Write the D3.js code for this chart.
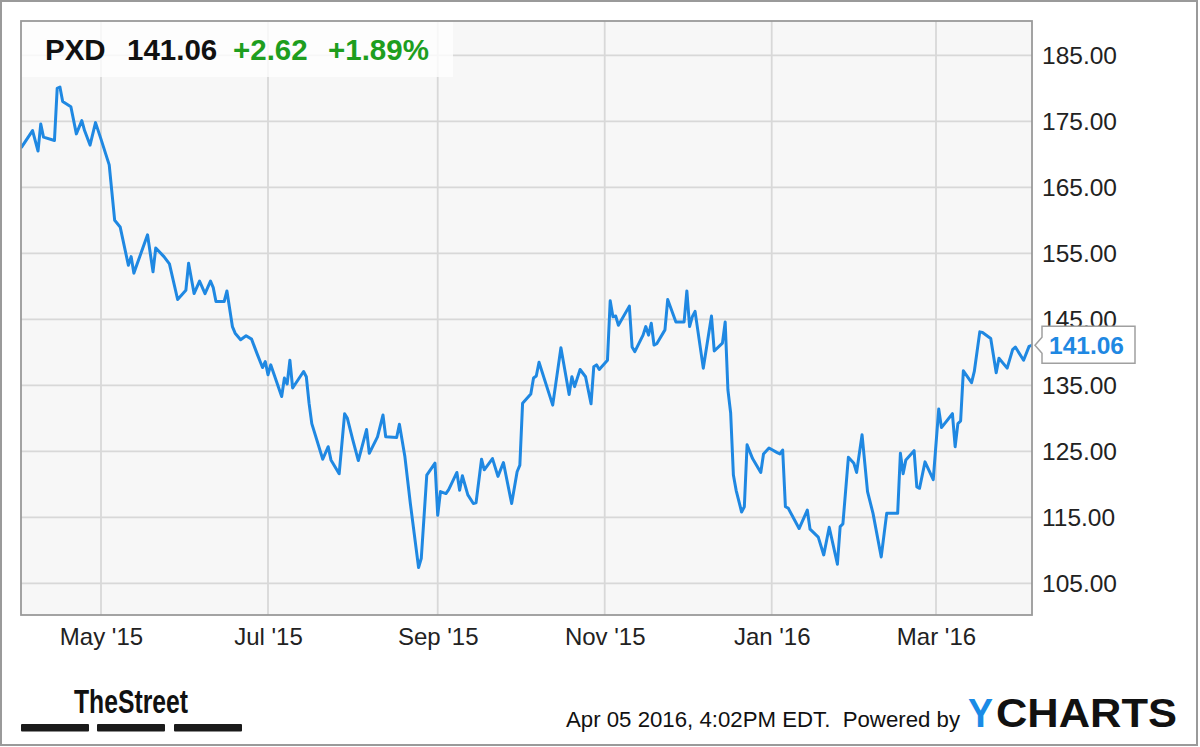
<!DOCTYPE html>
<html>
<head>
<meta charset="utf-8">
<script src="https://cdn.jsdelivr.net/npm/d3@7"></script>
<style>
  html, body { margin: 0; padding: 0; background: #fff; }
  svg { display: block; font-family: "Liberation Sans", Arial, Helvetica, sans-serif; }
</style>
</head>
<body>
<svg id="chart" width="1200" height="747"></svg>
<script>
// ---- data ----
const dates = [
"2015-04-02","2015-04-06","2015-04-08","2015-04-09","2015-04-10","2015-04-14","2015-04-15","2015-04-16","2015-04-17","2015-04-20",
"2015-04-22","2015-04-24","2015-04-25","2015-04-27","2015-04-29","2015-05-01","2015-05-04","2015-05-06","2015-05-08","2015-05-11",
"2015-05-12","2015-05-13","2015-05-18","2015-05-20","2015-05-21","2015-05-24","2015-05-26","2015-05-29","2015-06-01","2015-06-02",
"2015-06-04","2015-06-06","2015-06-08","2015-06-10","2015-06-11","2015-06-12","2015-06-15","2015-06-16","2015-06-18","2015-06-19",
"2015-06-21","2015-06-23","2015-06-25","2015-06-27","2015-06-29","2015-06-30","2015-07-01","2015-07-02","2015-07-06","2015-07-07",
"2015-07-08","2015-07-09","2015-07-10","2015-07-14","2015-07-15","2015-07-16","2015-07-17","2015-07-21","2015-07-23","2015-07-24",
"2015-07-27","2015-07-29","2015-07-30","2015-08-01","2015-08-03","2015-08-06","2015-08-07","2015-08-10","2015-08-12","2015-08-13",
"2015-08-17","2015-08-18","2015-08-20","2015-08-22","2015-08-25","2015-08-26","2015-08-28","2015-08-31","2015-09-01","2015-09-02",
"2015-09-04","2015-09-05","2015-09-08","2015-09-09","2015-09-10","2015-09-12","2015-09-14","2015-09-15","2015-09-17","2015-09-18",
"2015-09-21","2015-09-23","2015-09-25","2015-09-28","2015-09-30","2015-10-01","2015-10-02","2015-10-05","2015-10-06","2015-10-07",
"2015-10-08","2015-10-13","2015-10-16","2015-10-19","2015-10-20","2015-10-21","2015-10-23","2015-10-25","2015-10-27","2015-10-28",
"2015-10-29","2015-10-30","2015-11-02","2015-11-03","2015-11-04","2015-11-05","2015-11-06","2015-11-10","2015-11-11","2015-11-12",
"2015-11-15","2015-11-16","2015-11-17","2015-11-18","2015-11-19","2015-11-20","2015-11-23","2015-11-24","2015-11-27","2015-11-30",
"2015-12-01","2015-12-02","2015-12-03","2015-12-04","2015-12-07","2015-12-10","2015-12-11","2015-12-14","2015-12-15","2015-12-16",
"2015-12-17","2015-12-18","2015-12-19","2015-12-21","2015-12-22","2015-12-23","2015-12-25","2015-12-28","2015-12-29","2015-12-31",
"2016-01-03","2016-01-04","2016-01-05","2016-01-06","2016-01-07","2016-01-11","2016-01-14","2016-01-15","2016-01-18","2016-01-20",
"2016-01-22","2016-01-25","2016-01-26","2016-01-27","2016-01-29","2016-01-31","2016-02-01","2016-02-03","2016-02-05","2016-02-07",
"2016-02-10","2016-02-12","2016-02-16","2016-02-17","2016-02-18","2016-02-19","2016-02-22","2016-02-23","2016-02-24","2016-02-26",
"2016-02-29","2016-03-02","2016-03-03","2016-03-07","2016-03-08","2016-03-09","2016-03-10","2016-03-11","2016-03-14","2016-03-15",
"2016-03-17","2016-03-18","2016-03-21","2016-03-23","2016-03-24","2016-03-27","2016-03-29","2016-03-30","2016-04-02","2016-04-04",
"2016-04-05"
];
const prices = [
171.1,173.6,170.5,174.6,172.6,172.1,180.0,180.2,178.0,177.2,
173.1,175.1,173.6,171.4,174.8,172.3,168.4,160.0,159.0,153.2,
154.5,152.0,157.8,152.2,155.8,154.5,153.4,148.0,149.4,153.5,
148.9,150.8,148.9,150.8,149.8,147.7,147.7,149.3,143.9,142.9,
141.9,142.5,142.0,139.8,137.7,138.6,136.6,138.1,133.3,136.1,
135.2,138.8,134.6,137.1,136.3,132.3,129.2,123.8,125.7,123.7,
121.6,130.7,130.0,126.7,123.6,128.3,124.7,127.2,130.5,127.2,
127.1,129.1,124.2,117.1,107.4,108.8,121.4,123.2,115.3,118.9,
118.6,119.2,121.8,119.1,121.3,118.4,117.1,117.2,123.8,122.2,
123.9,121.2,123.3,117.1,121.9,122.9,132.3,133.7,136.1,136.4,
138.5,132.0,140.7,133.6,136.3,134.8,137.4,136.3,132.2,137.8,
138.1,137.4,138.8,147.8,145.4,145.5,144.1,147.0,140.8,140.1,
142.6,143.9,142.6,144.4,141.1,141.3,143.4,148.0,144.6,144.6,
149.3,143.9,145.4,146.2,137.6,145.5,140.2,141.4,144.6,134.3,
130.8,121.4,119.1,115.8,116.6,126.0,123.9,121.8,124.6,125.5,
124.8,124.6,125.2,116.6,116.4,113.3,116.1,113.2,112.0,109.3,
113.5,107.9,113.6,114.0,124.1,123.2,121.8,127.5,118.9,115.6,
109.0,115.6,115.6,124.7,121.6,123.7,125.1,119.6,119.4,123.4,
120.7,131.4,128.6,130.7,125.7,129.2,129.6,137.2,135.4,137.1,
143.1,143.0,142.1,136.9,139.1,137.6,140.4,140.8,138.8,140.9,
141.06
];
const yTicks = [105, 115, 125, 135, 145, 155, 165, 175, 185];
const xTickDates = ["2015-05-01","2015-07-01","2015-09-01","2015-11-01","2016-01-01","2016-03-01"];
const xTickLabels = ["May '15","Jul '15","Sep '15","Nov '15","Jan '16","Mar '16"];
const ticker = "PXD";
const lastPrice = "141.06";
const change = "+2.62";
const changePct = "+1.89%";
const footerText = "Apr 05 2016, 4:02PM EDT.  Powered by";

// ---- layout ----
const parse = d3.timeParse("%Y-%m-%d");
const P = { left: 21, top: 21, right: 1032, bottom: 615 };
const svg = d3.select("#chart");

const x = d3.scaleTime()
  .domain([parse("2015-04-02"), parse("2016-04-05")])
  .range([21.6, 1031.8]);
const y = d3.scaleLinear().domain([100.2, 190.2]).range([P.bottom, P.top]);

const data = dates.map((d, i) => ({ date: parse(d), value: prices[i] }));

// outer frame
svg.append("rect").attr("x", 1).attr("y", 1).attr("width", 1196).attr("height", 744)
  .attr("fill", "#fff").attr("stroke", "#9a9a9a").attr("stroke-width", 2);

// plot background
svg.append("rect").attr("x", P.left).attr("y", P.top)
  .attr("width", P.right - P.left).attr("height", P.bottom - P.top)
  .attr("fill", "#f7f7f7");

// gridlines
svg.append("g").selectAll("line.h").data(yTicks).join("line")
  .attr("x1", P.left).attr("x2", P.right)
  .attr("y1", d => y(d)).attr("y2", d => y(d))
  .attr("stroke", "#d8d8d8").attr("stroke-width", 1.8);
svg.append("g").selectAll("line.v").data(xTickDates).join("line")
  .attr("x1", d => x(parse(d))).attr("x2", d => x(parse(d)))
  .attr("y1", P.top).attr("y2", P.bottom)
  .attr("stroke", "#d8d8d8").attr("stroke-width", 1.8);

// clip
svg.append("clipPath").attr("id", "clip").append("rect")
  .attr("x", P.left).attr("y", P.top).attr("width", P.right - P.left).attr("height", P.bottom - P.top);

// price line
const line = d3.line().x(d => x(d.date)).y(d => y(d.value));
svg.append("path").datum(data)
  .attr("clip-path", "url(#clip)")
  .attr("d", line)
  .attr("fill", "none")
  .attr("stroke", "#1f88e2")
  .attr("stroke-width", 3)
  .attr("stroke-linejoin", "round")
  .attr("stroke-linecap", "round");

// header box
svg.append("rect").attr("x", P.left).attr("y", P.top).attr("width", 432).attr("height", 56)
  .attr("fill", "#fff").attr("fill-opacity", 0.78);
const hdr = svg.append("g").attr("font-weight", "bold").attr("font-size", 29.5);
hdr.append("text").attr("x", 45).attr("y", 60).attr("fill", "#111").text(ticker);
hdr.append("text").attr("x", 127).attr("y", 60).attr("fill", "#111").text(lastPrice);
hdr.append("text").attr("x", 233).attr("y", 60).attr("fill", "#1e9e1e").text(change);
hdr.append("text").attr("x", 328).attr("y", 60).attr("fill", "#1e9e1e").text(changePct);

// plot border
svg.append("rect").attr("x", P.left).attr("y", P.top)
  .attr("width", P.right - P.left).attr("height", P.bottom - P.top)
  .attr("fill", "none").attr("stroke", "#9a9a9a").attr("stroke-width", 1.8);

// right y axis
const yAxis = d3.axisRight(y).tickValues(yTicks).tickFormat(d3.format(".2f")).tickSize(0).tickPadding(10);
const gy = svg.append("g").attr("transform", `translate(${P.right},0)`).call(yAxis);
gy.select(".domain").remove();
gy.selectAll("text").attr("font-size", 24.5).attr("fill", "#222")
  .attr("font-family", "'Liberation Sans', Arial, sans-serif");

// bottom x axis
const xAxis = d3.axisBottom(x).tickValues(xTickDates.map(parse))
  .tickFormat((d, i) => xTickLabels[i]).tickSize(0).tickPadding(13);
const gx = svg.append("g").attr("transform", `translate(0,${P.bottom})`).call(xAxis);
gx.select(".domain").remove();
gx.selectAll("text").attr("font-size", 24).attr("fill", "#222")
  .attr("font-family", "'Liberation Sans', Arial, sans-serif");

// last price label
const ly = y(+lastPrice);
const lab = svg.append("g");
lab.append("path")
  .attr("d", `M${P.right + 3},${ly} L${1042},${ly - 8} L1042,${ly - 19} L1135,${ly - 19} L1135,${ly + 18} L1042,${ly + 18} L1042,${ly + 8} Z`)
  .attr("fill", "#fff").attr("stroke", "#a0a0a0").attr("stroke-width", 1.5);
lab.append("text").attr("x", 1049).attr("y", ly).attr("dy", "0.36em")
  .attr("font-size", 24.5).attr("font-weight", "bold").attr("fill", "#1f88e2").text(lastPrice);

// TheStreet logo
svg.append("text").attr("x", 74).attr("y", 713)
  .attr("font-family", "'Liberation Sans Narrow', 'Liberation Sans', Arial, sans-serif")
  .attr("font-weight", "bold").attr("font-size", 34).attr("fill", "#111")
  .attr("textLength", 114).attr("lengthAdjust", "spacingAndGlyphs").text("TheStreet");
[[21, 89], [97, 165], [174, 242]].forEach(([a, b]) => {
  svg.append("rect").attr("x", a).attr("y", 724).attr("width", b - a).attr("height", 7.5)
    .attr("rx", 1).attr("fill", "#1a1a1a");
});

// footer
svg.append("text").attr("x", 566).attr("y", 727).attr("font-size", 21.5).attr("fill", "#111")
  .attr("textLength", 394).attr("lengthAdjust", "spacingAndGlyphs")
  .style("white-space", "pre").text(footerText);
svg.append("text").attr("x", 968).attr("y", 727).attr("font-size", 41).attr("font-weight", "bold")
  .attr("fill", "#1a8be6").attr("textLength", 25).attr("lengthAdjust", "spacingAndGlyphs").text("Y");
svg.append("text").attr("x", 996).attr("y", 727).attr("font-size", 41).attr("font-weight", "bold")
  .attr("fill", "#111").attr("textLength", 181).attr("lengthAdjust", "spacingAndGlyphs").text("CHARTS");
</script>
</body>
</html>
